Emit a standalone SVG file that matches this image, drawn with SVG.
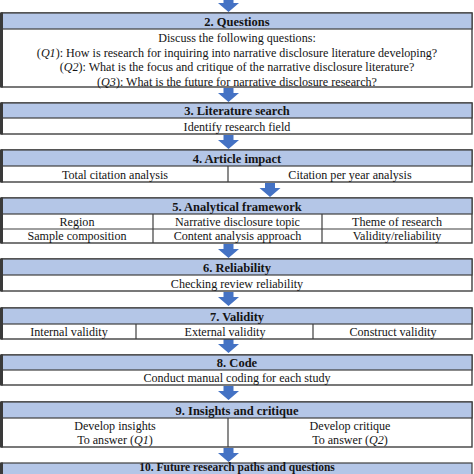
<svg xmlns="http://www.w3.org/2000/svg" xmlns:xlink="http://www.w3.org/1999/xlink" width="474" height="474" viewBox="0 0 474 474">
<style>
  .box{fill:#ffffff;stroke:#3f3f3f;stroke-width:1.4}
  .hd{fill:#b4c6e7;stroke:#3f3f3f;stroke-width:1.2}
  .edge{stroke:#3a3a3a;stroke-width:3}
  .div{stroke:#3f3f3f;stroke-width:1.2}
  text{font-family:"Liberation Serif","Times New Roman",serif;font-size:12.1px;fill:#141414;text-anchor:middle}
  .h{font-weight:bold;font-size:12.5px}
  .it{font-style:italic}
  .arr{fill:#4472c4}
</style>
<defs>
  <path id="arrow" d="M-5,0 H5 V5 H10.5 L0,14 L-10.5,5 H-5 Z"/>
</defs>
<rect width="474" height="474" fill="#ffffff"/>
<g id="connectors" class="arr">
  <use xlink:href="#arrow" x="228.5" y="-2"/>
  <use xlink:href="#arrow" x="228.5" y="88"/>
  <use xlink:href="#arrow" x="228.5" y="135"/>
  <use xlink:href="#arrow" x="270" y="183"/>
  <use xlink:href="#arrow" x="228.5" y="244"/>
  <use xlink:href="#arrow" x="228.5" y="292"/>
  <use xlink:href="#arrow" x="228.5" y="339"/>
  <use xlink:href="#arrow" x="228.5" y="386"/>
  <use xlink:href="#arrow" x="228.5" y="448"/>
</g>
<g id="n2">
  <rect class="box" x="1.5" y="13" width="470.5" height="74"/>
  <rect class="hd" x="1.5" y="13" width="470.5" height="16"/>
  <line class="edge" x1="1.5" y1="12.5" x2="1.5" y2="87.5"/>
  <text class="h" x="237" y="26">2. Questions</text>
  <text x="237" y="42">Discuss the following questions:</text>
  <text x="237" y="56.5">(<tspan class="it">Q1</tspan>): How is research for inquiring into narrative disclosure literature developing?</text>
  <text x="237" y="71">(<tspan class="it">Q2</tspan>): What is the focus and critique of the narrative disclosure literature?</text>
  <text x="237" y="85.5">(<tspan class="it">Q3</tspan>): What is the future for narrative disclosure research?</text>
</g>
<g id="n3">
  <rect class="box" x="1.5" y="103" width="470.5" height="31"/>
  <rect class="hd" x="1.5" y="103" width="470.5" height="15"/>
  <line class="edge" x1="1.5" y1="102.5" x2="1.5" y2="134.5"/>
  <text class="h" x="237" y="115">3. Literature search</text>
  <text x="237" y="130.5">Identify research field</text>
</g>
<g id="n4">
  <rect class="box" x="1.5" y="150" width="470.5" height="32"/>
  <rect class="hd" x="1.5" y="150" width="470.5" height="16"/>
  <line class="div" x1="228" y1="166" x2="228" y2="182"/>
  <line class="edge" x1="1.5" y1="149.5" x2="1.5" y2="182.5"/>
  <text class="h" x="237" y="162.5">4. Article impact</text>
  <text x="115" y="178.5">Total citation analysis</text>
  <text x="350" y="178.5">Citation per year analysis</text>
</g>
<g id="n5">
  <rect class="box" x="1.5" y="198" width="470.5" height="45"/>
  <rect class="hd" x="1.5" y="198" width="470.5" height="16"/>
  <line class="div" x1="1.5" y1="229" x2="472" y2="229"/>
  <line class="div" x1="153" y1="214" x2="153" y2="243"/>
  <line class="div" x1="322" y1="214" x2="322" y2="243"/>
  <line class="edge" x1="1.5" y1="197.5" x2="1.5" y2="243.5"/>
  <text class="h" x="237" y="210.5">5. Analytical framework</text>
  <text x="77" y="225.5">Region</text>
  <text x="237.5" y="225.5">Narrative disclosure topic</text>
  <text x="397" y="225.5">Theme of research</text>
  <text x="77" y="240">Sample composition</text>
  <text x="237.5" y="240">Content analysis approach</text>
  <text x="397" y="240">Validity/reliability</text>
</g>
<g id="n6">
  <rect class="box" x="1.5" y="259" width="470.5" height="32"/>
  <rect class="hd" x="1.5" y="259" width="470.5" height="16"/>
  <line class="edge" x1="1.5" y1="258.5" x2="1.5" y2="291.5"/>
  <text class="h" x="237" y="271.5">6. Reliability</text>
  <text x="237" y="287.5">Checking review reliability</text>
</g>
<g id="n7">
  <rect class="box" x="1.5" y="308" width="470.5" height="31"/>
  <rect class="hd" x="1.5" y="308" width="470.5" height="16"/>
  <line class="div" x1="136" y1="324" x2="136" y2="339"/>
  <line class="div" x1="313" y1="324" x2="313" y2="339"/>
  <line class="edge" x1="1.5" y1="307.5" x2="1.5" y2="339.5"/>
  <text class="h" x="237" y="320.5">7. Validity</text>
  <text x="69" y="335.5">Internal validity</text>
  <text x="225" y="335.5">External validity</text>
  <text x="393" y="335.5">Construct validity</text>
</g>
<g id="n8">
  <rect class="box" x="1.5" y="355" width="470.5" height="30"/>
  <rect class="hd" x="1.5" y="355" width="470.5" height="15"/>
  <line class="edge" x1="1.5" y1="354.5" x2="1.5" y2="385.5"/>
  <text class="h" x="237" y="367">8. Code</text>
  <text x="237" y="382">Conduct manual coding for each study</text>
</g>
<g id="n9">
  <rect class="box" x="1.5" y="402" width="470.5" height="45"/>
  <rect class="hd" x="1.5" y="402" width="470.5" height="16"/>
  <line class="div" x1="228" y1="418" x2="228" y2="447"/>
  <line class="edge" x1="1.5" y1="401.5" x2="1.5" y2="447.5"/>
  <text class="h" x="237" y="414.5">9. Insights and critique</text>
  <text x="115" y="429.5">Develop insights</text>
  <text x="115" y="444">To answer (<tspan class="it">Q1</tspan>)</text>
  <text x="350" y="429.5">Develop critique</text>
  <text x="350" y="444">To answer (<tspan class="it">Q2</tspan>)</text>
</g>
<g id="n10">
  <rect class="hd" x="1.5" y="463" width="470.5" height="16"/>
  <line class="edge" x1="1.5" y1="462.5" x2="1.5" y2="474"/>
  <text class="h" x="237" y="471" style="font-size:11.5px">10. Future research paths and questions</text>
</g>
</svg>
